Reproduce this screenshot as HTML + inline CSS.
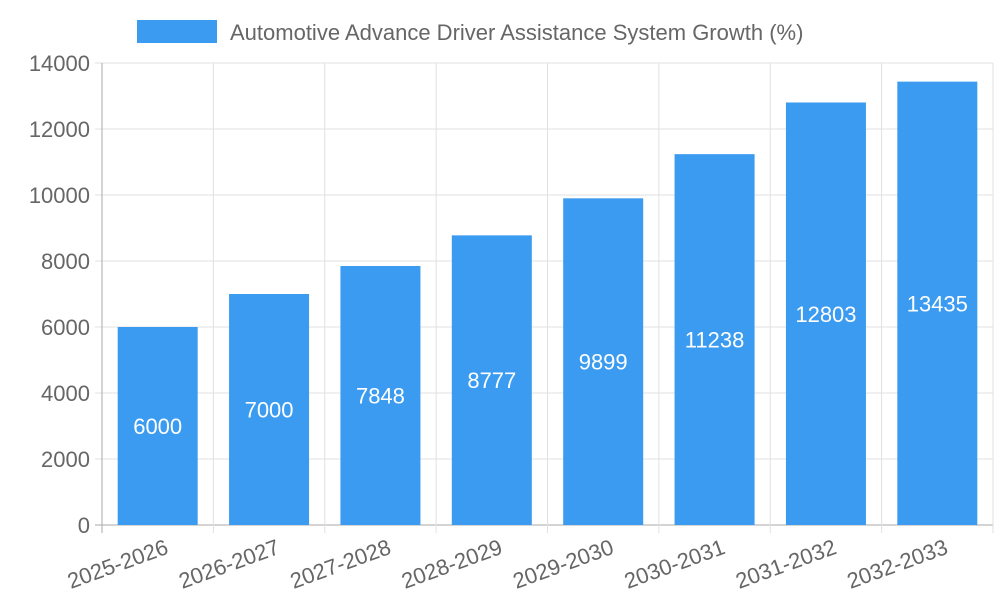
<!DOCTYPE html>
<html><head><meta charset="utf-8"><style>
body{margin:0;background:#fff;}
svg text{font-family:"Liberation Sans",sans-serif;}
</style></head><body>
<svg id="chart" width="1000" height="600" xmlns="http://www.w3.org/2000/svg">
<g id="legend">
<rect x="137" y="20" width="80" height="23" fill="#3a9bf0"/>
<text x="230" y="40" font-size="22" fill="#666">Automotive Advance Driver Assistance System Growth (%)</text>
</g>
<g id="grid"></g><g id="bars"></g><g id="axes"></g>
</svg>
<script>
const categories=["2025-2026","2026-2027","2027-2028","2028-2029","2029-2030","2030-2031","2031-2032","2032-2033"];
const values=[6000,7000,7848,8777,9899,11238,12803,13435];
const yTicks=[0,2000,4000,6000,8000,10000,12000,14000];
const NS="http://www.w3.org/2000/svg";
const L=102,R=993,T=63,B=525,yMax=14000;
const y=v=>B-(v/yMax)*(B-T);
const bw=(R-L)/categories.length;
const x=i=>L+bw*i;
function mk(tag,attrs,parent,text){const e=document.createElementNS(NS,tag);for(const k in attrs)e.setAttribute(k,attrs[k]);if(text!==undefined)e.textContent=text;document.getElementById(parent).appendChild(e);return e;}
yTicks.forEach(t=>{
 const g=mk('line',{x1:L-7,x2:R,y1:y(t),y2:y(t),stroke:t===0?'#aaa':'#e0e0e0','stroke-width':1},'grid');
 
 
 const lb=mk('text',{x:L-12,y:y(t)+8,'text-anchor':'end','font-size':22,fill:'#666'},'axes',String(t));
 
 
});
for(let i=0;i<=categories.length;i++){
 const g=mk('line',{x1:x(i),x2:x(i),y1:T,y2:B+8,stroke:i===0?'#aaa':'#e0e0e0','stroke-width':1},'grid');
 
 
}
categories.forEach((c,i)=>{
 const cx=x(i)+bw/2;
 const r=mk('rect',{x:cx-40,y:y(values[i]),width:80,height:B-y(values[i]),fill:'#3a9bf0'},'bars');
 
 
 const v=mk('text',{x:cx,y:(y(values[i])+B)/2+8,'text-anchor':'middle','font-size':22,fill:'#fff'},'bars',String(values[i]));
 
 
 const t=mk('text',{x:cx+12,y:B+28,'text-anchor':'end','font-size':22,fill:'#666',transform:`rotate(-20 ${cx+12} ${B+28})`},'axes',c);
 
 
});
</script>
</body></html>
